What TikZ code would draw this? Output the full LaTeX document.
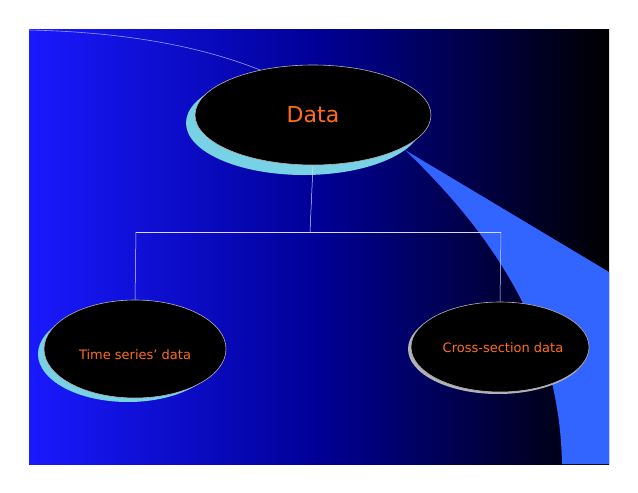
\documentclass[tikz,border=0pt]{standalone}
\usepackage{fontspec}
\usetikzlibrary{shapes.geometric}
\setmainfont{DejaVu Sans}
\definecolor{bgblue}{RGB}{25,25,255}
\definecolor{midblue}{RGB}{0,0,150}
\definecolor{swoosh}{RGB}{50,100,255}
\definecolor{cyanshadow}{RGB}{120,210,230}
\definecolor{txtorange}{RGB}{255,110,20}
\begin{document}
\begin{tikzpicture}[x=1pt,y=-1pt,
  blob/.style={ellipse,fill=black,draw=gray!60,line width=0.6pt,inner sep=0pt},
  lbl/.style={text=txtorange},
  conn/.style={draw=white!85!blue,line width=0.5pt}]
\useasboundingbox (0,0) rectangle (638,493);
\fill[white] (0,0) rectangle (638,493);
\shade[left color=bgblue,right color=black,middle color=midblue] (29,29) rectangle (609,464);
% swoosh
\fill[swoosh] (405,150) -- (609,272) -- (609,464) -- (562,464) .. controls (560,360) and (520,260) .. (405,150) -- cycle;
\draw[white!60!blue,line width=0.6pt] (29,30) .. controls (120,32) and (200,45) .. (265,72);
% shadows
\fill[cyanshadow] (304,123) ellipse (118pt and 52pt);
\fill[cyanshadow] (128,354) ellipse (90pt and 48pt);
\fill[gray!60] (498,349) ellipse (90pt and 45pt);
% nodes
\node[blob,minimum width=236pt,minimum height=100pt] (data) at (313,115) {};
\node[lbl,font=\fontsize{22}{24}\selectfont] at (data.center) {Data};
\node[blob,minimum width=182pt,minimum height=98pt] (ts) at (135,349) {};
\node[lbl,font=\fontsize{13}{15}\selectfont] at (135,355) {Time series' data};
\node[blob,minimum width=178pt,minimum height=90pt] (cs) at (500,347) {};
\node[lbl,font=\fontsize{13}{15}\selectfont] at (503,348) {Cross-section data};
% connectors
\coordinate (j) at (310,232);
\coordinate (l) at (136,232);
\coordinate (r) at (501,232);
\draw[conn] (data.south) -- (j);
\draw[conn] (l) -- (r);
\draw[conn] (l) -- (ts.north);
\draw[conn] (r) -- (cs.north);
\end{tikzpicture}
\end{document}
